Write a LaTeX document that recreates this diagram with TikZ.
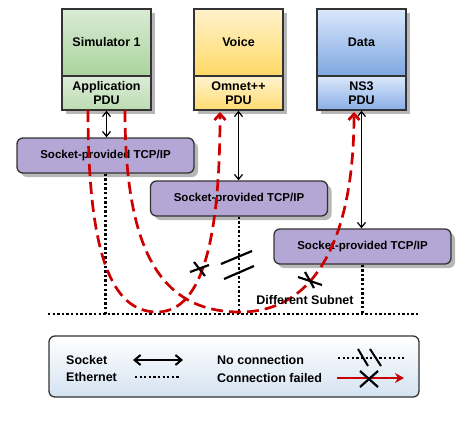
\documentclass[tikz,border=0pt]{standalone}
\usepackage{fontspec}
\setmainfont{Liberation Sans}
\usetikzlibrary{arrows.meta,shadows,calc}
\definecolor{redc}{HTML}{CC0000}
\definecolor{edge}{HTML}{333333}
\definecolor{gA}{HTML}{D9EBD5}
\definecolor{gB}{HTML}{AAD39C}
\definecolor{gC}{HTML}{DCECD8}
\definecolor{gD}{HTML}{BCDCB2}
\definecolor{yA}{HTML}{FFF2CC}
\definecolor{yB}{HTML}{FFD966}
\definecolor{yC}{HTML}{FFF3CF}
\definecolor{yD}{HTML}{FFDC70}
\definecolor{bA}{HTML}{DAE8FC}
\definecolor{bB}{HTML}{7EA6E0}
\definecolor{bC}{HTML}{DBE8FB}
\definecolor{bD}{HTML}{88AEE6}
\definecolor{lav}{HTML}{B4A7D6}
\definecolor{legB}{HTML}{D4E2F1}
\tikzset{
  shad/.style={drop shadow={shadow xshift=4pt,shadow yshift=-4pt,fill=black!40,opacity=0.7}},
  topbox/.style={draw=edge,line width=1.3pt,minimum width=89pt,minimum height=67pt,inner sep=0pt,
    font=\bfseries\fontsize{12.5}{14}\selectfont,shad},
  pdubox/.style={draw=edge,line width=1.3pt,minimum width=89pt,minimum height=34pt,inner sep=0pt,
    align=center,font=\bfseries\fontsize{12.5}{14}\selectfont,shad},
  sockbox/.style={draw=edge,line width=1.3pt,fill=lav,rounded corners=6pt,minimum width=177pt,
    minimum height=35pt,inner sep=0pt,font=\bfseries\fontsize{11.5}{13}\selectfont,shad},
  lbl/.style={font=\bfseries\fontsize{12.5}{14}\selectfont,inner sep=0pt},
  sockarrow/.style={draw=black,line width=1.2pt,{Straight Barb[length=5pt,width=8pt]}-{Straight Barb[length=5pt,width=8pt]}},
  ether/.style={draw=black,line width=2.6pt,dash pattern=on 2.4pt off 2.2pt},
  failed/.style={draw=redc,line width=2.7pt,dash pattern=on 12pt off 6pt,-{Straight Barb[length=6pt,width=11pt]}},
  xmark/.style={draw=black,line width=2.2pt},
}
\begin{document}
\begin{tikzpicture}[x=1pt,y=-1pt]
\useasboundingbox (0,0) rectangle (474,431);
% top boxes
\node[topbox,top color=gA,bottom color=gB] (sim) at (106.5,42.5) {Simulator 1};
\node[pdubox,top color=gC,bottom color=gD] (simpdu) at (106.5,93) {Application\\PDU};
\node[topbox,top color=yA,bottom color=yB] (voice) at (238.5,42.5) {Voice};
\node[pdubox,top color=yC,bottom color=yD] (voicepdu) at (238.5,93) {Omnet++\\PDU};
\node[topbox,top color=bA,bottom color=bB] (data) at (361.5,42.5) {Data};
\node[pdubox,top color=bC,bottom color=bD] (datapdu) at (361.5,93) {NS3\\PDU};
% socket boxes
\node[sockbox] (s1) at (105.5,155.5) {Socket-provided TCP/IP};
\node[sockbox] (s2) at (239,198.5) {Socket-provided TCP/IP};
\node[sockbox] (s3) at (362.5,246.5) {Socket-provided TCP/IP};
% ethernet
\coordinate (eL) at (48,314);
\coordinate (eR) at (420,314);
\draw[ether] (eL) -- (eR);
\draw[ether] (s1.south) -- (s1.south |- eL);
\draw[ether] (s2.south) -- (s2.south |- eL);
\draw[ether] (s3.south) -- (s3.south |- eL);
% socket arrows
\draw[sockarrow] (simpdu.south) -- (simpdu.south |- s1.north);
\draw[sockarrow] (voicepdu.south) -- (voicepdu.south |- s2.north);
\draw[sockarrow] (datapdu.south) -- (datapdu.south |- s3.north);
% failed connections
\coordinate (r1s) at (88,110);
\coordinate (r1e) at (220,112);
\coordinate (r2s) at (125,110);
\coordinate (r2e) at (354,112);
\draw[failed] (r1s) .. controls (88,250) and (110,312) .. (157,312)
  .. controls (205,312) and (220,230) .. (r1e);
\draw[failed] (r2s) .. controls (125,250) and (160,312) .. (240,312)
  .. controls (320,312) and (354,230) .. (r2e);
% crosses
\draw[xmark] (190,272) -- (209,265);
\draw[xmark] (194,262) -- (205,276);
\draw[xmark] (298,277) -- (322,285);
\draw[xmark] (305,272) -- (314,288);
% no connection break
\draw[xmark] (221,264) -- (252,251);
\draw[xmark] (224,279) -- (254,266);
\node[lbl] (subnet) at (305,300) {Different Subnet};
% legend
\node[draw=edge,line width=1.3pt,rounded corners=6pt,top color=white,bottom color=legB,
  minimum width=370pt,minimum height=61pt,inner sep=0pt] (legend) at (234,366.5) {};
\node[lbl,anchor=west] (lsock) at (66,360) {Socket};
\node[lbl,anchor=west] (leth) at (66,377) {Ethernet};
\node[lbl,anchor=west] (lno) at (217,360) {No connection};
\node[lbl,anchor=west] (lfail) at (217,378) {Connection failed};
\coordinate (la1) at (133,360);
\coordinate (la2) at (183,360);
\draw[draw=black,line width=2pt,{Straight Barb[length=6pt,width=10pt]}-{Straight Barb[length=6pt,width=10pt]}] (la1) -- (la2);
\coordinate (le1) at (135,377);
\coordinate (le2) at (179,377);
\draw[ether,line width=2.2pt,dash pattern=on 2.2pt off 2.4pt] (le1) -- (le2);
\coordinate (ln1) at (338,358);
\coordinate (ln2) at (404,358);
\draw[ether,line width=2.2pt,dash pattern=on 2.2pt off 2.4pt] (ln1) -- (ln2);
\draw[xmark,line width=2pt] (358,349) -- (368,366);
\draw[xmark,line width=2pt] (370,349) -- (381,366);
\coordinate (lf1) at (337,378);
\coordinate (lf2) at (404,378);
\draw[draw=redc,line width=2.2pt,-{Stealth[length=9pt,width=10pt,inset=3pt]}] (lf1) -- (lf2);
\draw[xmark,line width=2.2pt] (360,371) -- (378,387);
\draw[xmark,line width=2.2pt] (360,387) -- (378,371);
\end{tikzpicture}
\end{document}
